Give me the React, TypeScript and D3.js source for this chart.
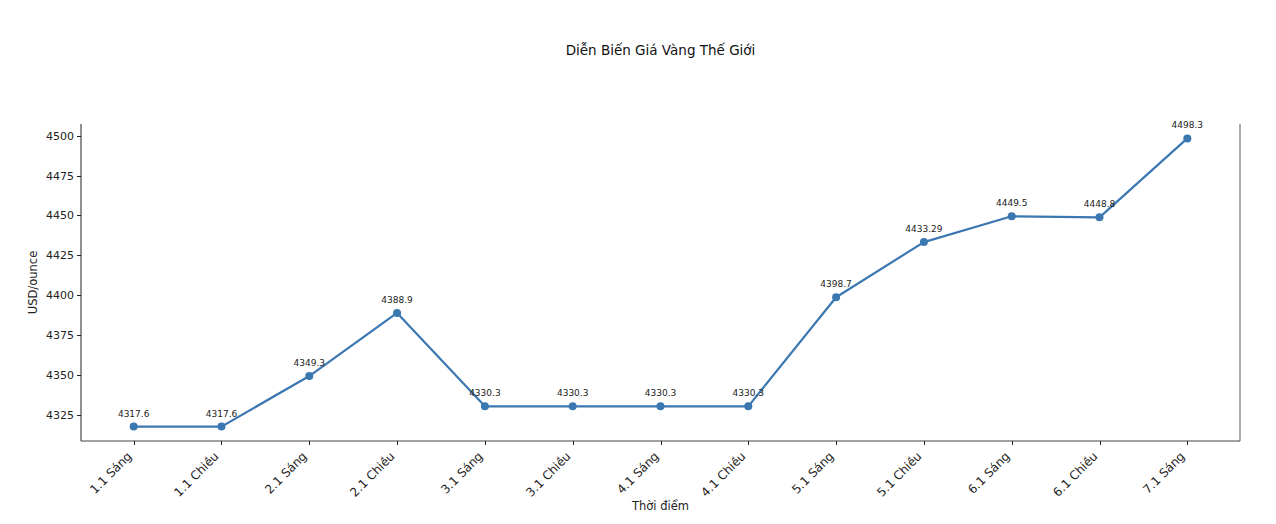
import React, { useEffect, useRef } from 'react';
import * as d3 from 'd3';

const categories: string[] = [
  '1.1 Sáng', '1.1 Chiều', '2.1 Sáng', '2.1 Chiều', '3.1 Sáng', '3.1 Chiều', '4.1 Sáng',
  '4.1 Chiều', '5.1 Sáng', '5.1 Chiều', '6.1 Sáng', '6.1 Chiều', '7.1 Sáng',
];
const prices: number[] = [
  4317.6, 4317.6, 4349.3, 4388.9, 4330.3, 4330.3, 4330.3,
  4330.3, 4398.7, 4433.29, 4449.5, 4448.8, 4498.3,
];
const yTicks: number[] = [4325, 4350, 4375, 4400, 4425, 4450, 4475, 4500];

const App: React.FC = () => {
  const svgRef = useRef<SVGSVGElement>(null);

  useEffect(() => {
    if (!svgRef.current) return;
    const width = 1276;
    const height = 524;
    const font = '"DejaVu Sans", sans-serif';
    const color = '#3b77b1';

    const svg = d3.select(svgRef.current);
    svg.selectAll('*').remove();
    svg.attr('width', width).attr('height', height).attr('viewBox', `0 0 ${width} ${height}`);

    const left = 81, right = 1240, top = 124, bottom = 441;

    // matplotlib style 5% margins on both axes
    const n = categories.length;
    const x = d3.scaleLinear().domain([-0.6, n - 1 + 0.6]).range([left, right]);
    const [mn, mx] = d3.extent(prices) as [number, number];
    const pad = (mx - mn) * 0.05;
    const y = d3.scaleLinear().domain([mn - pad, mx + pad]).range([bottom, top]);

    svg.append('rect').attr('width', width).attr('height', height).attr('fill', '#fff');

    // title
    svg.append('text')
      .attr('x', (left + right) / 2)
      .attr('y', 55)
      .attr('text-anchor', 'middle')
      .attr('font-family', font)
      .attr('font-size', 13.5)
      .attr('fill', '#111')
      .text('Diễn Biến Giá Vàng Thế Giới');

    // spines
    svg.append('line').attr('x1', left).attr('x2', left).attr('y1', top).attr('y2', bottom)
      .attr('stroke', '#222').attr('stroke-width', 1);
    svg.append('line').attr('x1', left).attr('x2', right).attr('y1', bottom).attr('y2', bottom)
      .attr('stroke', '#444').attr('stroke-width', 1);
    svg.append('line').attr('x1', right).attr('x2', right).attr('y1', top).attr('y2', bottom)
      .attr('stroke', '#555').attr('stroke-width', 1);

    // y ticks
    const yg = svg.append('g');
    yTicks.forEach(t => {
      const yy = Math.round(y(t)) + 0.5;
      yg.append('line').attr('x1', left - 4).attr('x2', left).attr('y1', yy).attr('y2', yy)
        .attr('stroke', '#222');
      yg.append('text')
        .attr('x', left - 7)
        .attr('y', yy)
        .attr('dy', '0.36em')
        .attr('text-anchor', 'end')
        .attr('font-family', font)
        .attr('font-size', 11)
        .attr('fill', '#222')
        .text(t);
    });

    // x ticks, rotated labels ending at the tick
    const xg = svg.append('g');
    categories.forEach((c, i) => {
      const xx = Math.round(x(i)) + 0.5;
      xg.append('line').attr('x1', xx).attr('x2', xx).attr('y1', bottom).attr('y2', bottom + 4)
        .attr('stroke', '#222');
      xg.append('text')
        .attr('transform', `translate(${xx - 2},${bottom + 16}) rotate(-45)`)
        .attr('text-anchor', 'end')
        .attr('font-family', font)
        .attr('font-size', 12)
        .attr('fill', '#222')
        .text(c);
    });

    // axis labels
    svg.append('text')
      .attr('x', (left + right) / 2)
      .attr('y', 510)
      .attr('text-anchor', 'middle')
      .attr('font-family', font)
      .attr('font-size', 11.5)
      .attr('fill', '#222')
      .text('Thời điểm');
    svg.append('text')
      .attr('transform', `translate(37,${(top + bottom) / 2}) rotate(-90)`)
      .attr('text-anchor', 'middle')
      .attr('font-family', font)
      .attr('font-size', 11.5)
      .attr('fill', '#222')
      .text('USD/ounce');

    // line
    const line = d3.line<number>().x((_, i) => x(i)).y(d => y(d));
    svg.append('path')
      .datum(prices)
      .attr('d', line)
      .attr('fill', 'none')
      .attr('stroke', color)
      .attr('stroke-width', 2.2)
      .attr('stroke-linejoin', 'round');

    svg.selectAll('.pt')
      .data(prices)
      .enter()
      .append('circle')
      .attr('class', 'pt')
      .attr('cx', (_, i) => x(i))
      .attr('cy', d => y(d))
      .attr('r', 4)
      .attr('fill', color);

    // value annotations
    svg.selectAll('.lbl')
      .data(prices)
      .enter()
      .append('text')
      .attr('class', 'lbl')
      .attr('x', (_, i) => x(i))
      .attr('y', d => y(d) - 10)
      .attr('text-anchor', 'middle')
      .attr('font-family', font)
      .attr('font-size', 9)
      .attr('fill', '#222')
      .text(d => String(d));
  }, []);

  return <svg ref={svgRef} style={{ display: 'block', margin: '-8px' }} />;
};

export default App;
